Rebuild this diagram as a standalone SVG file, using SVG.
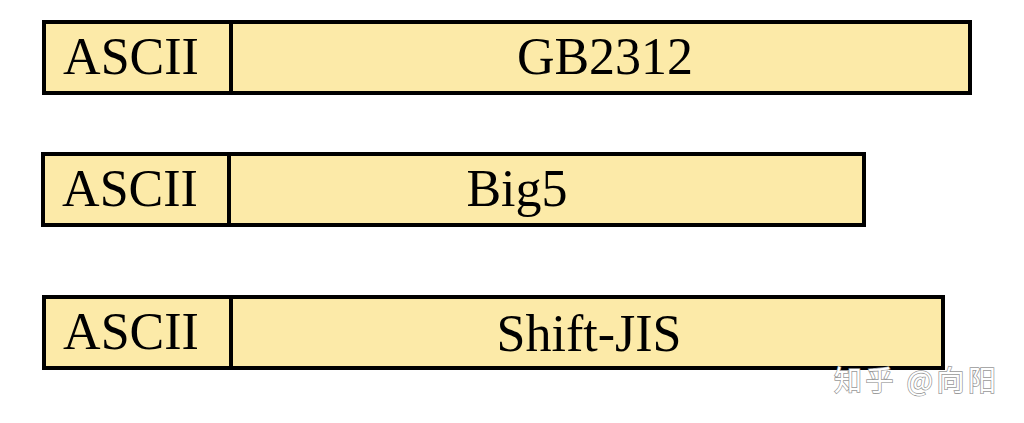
<svg xmlns="http://www.w3.org/2000/svg" width="1024" height="423" viewBox="0 0 1024 423">
<style>
.box{fill:#FCEAA8;stroke:#000;stroke-width:4}
.div{stroke:#000;stroke-width:4}
.t{font-family:"Liberation Serif","Times New Roman",serif;font-size:52px;fill:#000;text-anchor:middle}
.wm{font-family:"Noto Sans CJK SC","Noto Sans",sans-serif;font-size:28px;fill:#fff;stroke:#999;stroke-width:1.5;paint-order:stroke}
</style>
<rect width="1024" height="423" fill="#fff"/>
<g id="row-gb2312">
<rect class="box" x="44" y="22" width="926" height="71"/>
<line class="div" x1="231" y1="22" x2="231" y2="93"/>
<text class="t" x="131" y="74">ASCII</text>
<text class="t" x="605" y="74">GB2312</text>
</g>
<g id="row-big5">
<rect class="box" x="43" y="154" width="821" height="71"/>
<line class="div" x1="229" y1="154" x2="229" y2="225"/>
<text class="t" x="130" y="206">ASCII</text>
<text class="t" x="517" y="206">Big5</text>
</g>
<g id="row-shiftjis">
<rect class="box" x="44" y="297" width="899" height="71"/>
<line class="div" x1="231" y1="297" x2="231" y2="368"/>
<text class="t" x="131" y="349">ASCII</text>
<text class="t" x="589" y="351">Shift-JIS</text>
</g>
<g id="connectors"/>
<text class="wm" x="834" y="391" textLength="162" lengthAdjust="spacing">知乎 @向阳</text>
</svg>
